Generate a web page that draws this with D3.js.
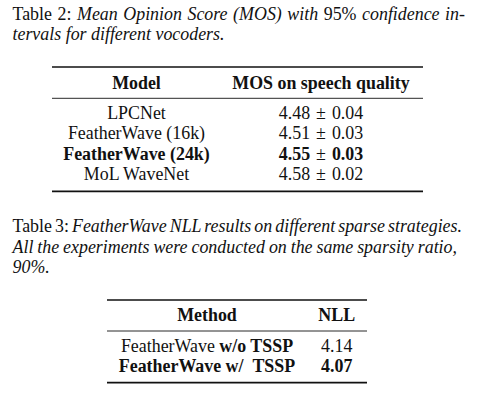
<!DOCTYPE html>
<html>
<head>
<meta charset="utf-8">
<script src="https://cdn.jsdelivr.net/npm/d3@7"></script>
<style>
  body { margin: 0; background: #fff; }
  svg text { font-family: "Liberation Serif", "Times New Roman", serif; font-size: 17.9px; fill: #111; }
</style>
</head>
<body>
<div id="chart"></div>
<script>
// Table 2 data
const models = ["LPCNet", "FeatherWave (16k)", "FeatherWave (24k)", "MoL WaveNet"];
const mosMean = [4.48, 4.51, 4.55, 4.58];
const mosCi = [0.04, 0.03, 0.03, 0.02];
const mosBold = [false, false, true, false];
const table2Header = ["Model", "MOS on speech quality"];

// Table 3 data
const methodNames = ["FeatherWave", "FeatherWave"];
const methodSuffix = ["w/o TSSP", "w/\u00a0\u00a0TSSP"];
const nll = [4.14, 4.07];
const nllBold = [false, true];
const table3Header = ["Method", "NLL"];

// captions: each line is a list of [text, style] pieces
const caption2 = [
  [["Table 2: ", "n"], ["Mean Opinion Score (MOS) with ", "i"], ["95%", "n"], [" confidence in-", "i"]],
  [["tervals for different vocoders.", "i"]]
];
const caption3 = [
  [["Table 3: ", "n"], ["FeatherWave NLL results on different sparse strategies.", "i"]],
  [["All the experiments were conducted on the same sparsity ratio,", "i"]],
  [["90%.", "i"]]
];

const width = 484, height = 413;
const fmt = d3.format(".2f");

const svg = d3.select("#chart")
  .append("svg")
  .attr("width", width)
  .attr("height", height);

svg.append("rect").attr("width", width).attr("height", height).attr("fill", "#fff");

// draw a caption, justifying every line that has a right edge given
function drawCaption(lines, x, y0, lineGap, rights) {
  lines.forEach((line, i) => {
    let t = svg.append("text").attr("x", x).attr("y", y0 + i * lineGap);
    line.forEach(([s, st]) => {
      t.append("tspan")
        .attr("font-style", st === "i" ? "italic" : "normal")
        .text(s);
    });
    if (rights[i]) {
      let natural = t.node().getComputedTextLength();
      let spaces = line.map(p => p[0]).join("").split(" ").length - 1;
      if (spaces > 0) t.attr("word-spacing", (rights[i] - x - natural) / spaces);
    }
  });
}

drawCaption(caption2, 12.5, 20, 19.5, [465]);
drawCaption(caption3, 12.5, 232.3, 20.5, [462, 457]);

function rule(x0, x1, y, w) {
  svg.append("line")
    .attr("x1", x0).attr("x2", x1)
    .attr("y1", y).attr("y2", y)
    .attr("stroke", "#111").attr("stroke-width", w);
}

// ---- Table 2 ----
let x2 = d3.scaleOrdinal().domain([0, 1]).range([136.5, 321]);
let y2 = d3.scalePoint().domain(d3.range(models.length)).range([119, 180]);

rule(52, 423, 67, 1.7);
rule(52, 423, 98.3, 0.9);
rule(52, 423, 191.3, 1.7);

svg.selectAll("text.h2")
  .data(table2Header)
  .enter()
  .append("text")
  .attr("class", "h2")
  .attr("x", (d, i) => x2(i))
  .attr("y", 88.5)
  .attr("text-anchor", "middle")
  .attr("font-weight", "bold")
  .text(d => d);

models.forEach((m, i) => {
  svg.append("text")
    .attr("x", x2(0))
    .attr("y", y2(i))
    .attr("text-anchor", "middle")
    .attr("font-weight", mosBold[i] ? "bold" : "normal")
    .text(m);

  // math-style spacing round the plus-minus sign
  let t = svg.append("text")
    .attr("x", x2(1))
    .attr("y", y2(i))
    .attr("text-anchor", "middle");
  t.append("tspan").attr("font-weight", mosBold[i] ? "bold" : "normal").text(fmt(mosMean[i]));
  t.append("tspan").text("\u00a0\u200a\u00b1\u200a\u00a0");
  t.append("tspan").attr("font-weight", mosBold[i] ? "bold" : "normal").text(fmt(mosCi[i]));
});

// ---- Table 3 ----
let x3 = d3.scaleOrdinal().domain([0, 1]).range([207, 336.7]);
let y3 = d3.scalePoint().domain(d3.range(nll.length)).range([351.7, 372]);

rule(107, 367, 300, 1.7);
rule(107, 367, 331, 0.9);
rule(107, 367, 382.7, 1.7);

svg.selectAll("text.h3")
  .data(table3Header)
  .enter()
  .append("text")
  .attr("class", "h3")
  .attr("x", (d, i) => x3(i))
  .attr("y", 320.5)
  .attr("text-anchor", "middle")
  .attr("font-weight", "bold")
  .text(d => d);

nll.forEach((v, i) => {
  let t = svg.append("text")
    .attr("x", x3(0))
    .attr("y", y3(i))
    .attr("text-anchor", "middle")
    .attr("xml:space", "preserve");
  t.append("tspan").attr("font-weight", nllBold[i] ? "bold" : "normal").text(methodNames[i] + " ");
  t.append("tspan").attr("font-weight", "bold").text(methodSuffix[i]);

  svg.append("text")
    .attr("x", x3(1))
    .attr("y", y3(i))
    .attr("text-anchor", "middle")
    .attr("font-weight", nllBold[i] ? "bold" : "normal")
    .text(fmt(v));
});
</script>
</body>
</html>
